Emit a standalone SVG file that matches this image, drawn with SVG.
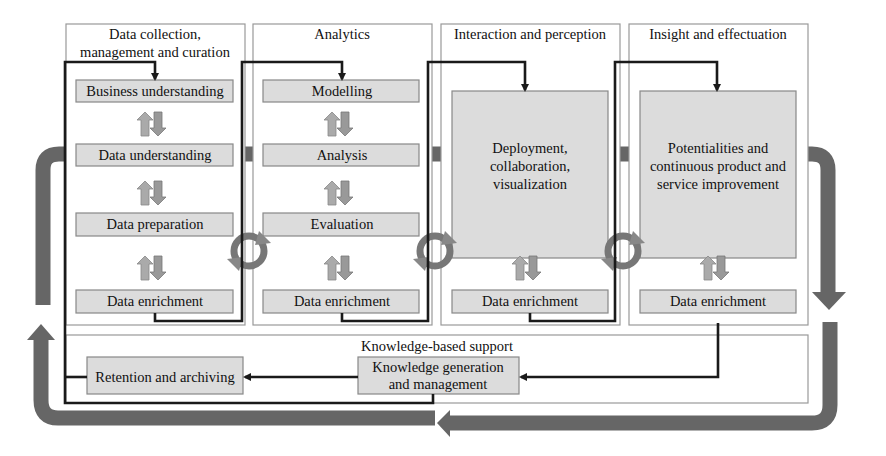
<svg xmlns="http://www.w3.org/2000/svg" width="886" height="456" viewBox="0 0 886 456">
<defs>
<style>
.col{fill:#fff;stroke:#999;stroke-width:1.2}
.box{fill:#dcdcdc;stroke:#888;stroke-width:1.2}
text{font-family:"Liberation Serif",serif;font-size:14.5px;fill:#111;text-anchor:middle}
.ln{fill:none;stroke:#1a1a1a;stroke-width:2.6}
.band{fill:none;stroke:#666;stroke-width:15}
.up{fill:#aaa;stroke:#888;stroke-width:0.8}
.dn{fill:#999;stroke:#777;stroke-width:0.8}
</style>
<marker id="ah" markerWidth="8" markerHeight="8" refX="6" refY="4" orient="auto" markerUnits="userSpaceOnUse"><path d="M0,0 L8,4 L0,8 Z" fill="#1a1a1a"/></marker>
<g id="dbl">
<path class="up" d="M-11,24 V8 H-15 L-7,0 L1,8 H-3 V24 Z"/>
<path class="dn" d="M2,0 V16 H-2 L6,24 L14,16 H10 V0 Z"/>
</g>
<g id="cyc">
<circle r="15" fill="none" stroke="#777" stroke-width="7"/>
<path d="M10,-20 L22,-8 L6,-6 Z" fill="#888"/>
<path d="M-10,20 L-22,8 L-6,6 Z" fill="#888"/>
</g>
</defs>
<g id="bands">
<path class="band" d="M43,305 V170 Q43,154 59,154 H812 Q828,154 828,170 V292"/>
<path d="M812,292 L846,292 L829,310 Z" fill="#666"/>
<path class="band" d="M830,322 V405 Q830,423 812,423 H450"/>
<path d="M450,410 L450,437 L437,423 Z" fill="#666"/>
<path class="band" d="M435,418 H58 Q41,418 41,400 V340"/>
<path d="M27,340 L55,340 L41,324 Z" fill="#666"/>
</g>
<g id="col1"><rect class="col" x="66" y="24" width="179" height="301"/><text x="155" y="39">Data collection,</text><text x="155" y="57">management and curation</text></g>
<g id="col2"><rect class="col" x="253" y="24" width="179" height="301"/><text x="342" y="39">Analytics</text></g>
<g id="col3"><rect class="col" x="441" y="24" width="179" height="301"/><text x="530" y="39">Interaction and perception</text></g>
<g id="col4"><rect class="col" x="629" y="24" width="179" height="301"/><text x="718" y="39">Insight and effectuation</text></g>
<g id="kbs"><rect class="col" x="66" y="335" width="742" height="68"/><text x="437" y="351">Knowledge-based support</text></g>
<g id="n1"><rect class="box" x="76" y="80" width="157" height="22"/><text x="155" y="96">Business understanding</text></g>
<g id="n2"><rect class="box" x="76" y="144" width="157" height="22"/><text x="155" y="160">Data understanding</text></g>
<g id="n3"><rect class="box" x="76" y="213" width="157" height="23"/><text x="155" y="229">Data preparation</text></g>
<g id="n4"><rect class="box" x="76" y="290" width="157" height="23"/><text x="155" y="306">Data enrichment</text></g>
<g id="m1"><rect class="box" x="263" y="80" width="156" height="22"/><text x="342" y="96">Modelling</text></g>
<g id="m2"><rect class="box" x="263" y="144" width="156" height="22"/><text x="342" y="160">Analysis</text></g>
<g id="m3"><rect class="box" x="263" y="213" width="156" height="23"/><text x="342" y="229">Evaluation</text></g>
<g id="m4"><rect class="box" x="263" y="290" width="156" height="23"/><text x="342" y="306">Data enrichment</text></g>
<g id="d1"><rect class="box" x="452" y="91" width="156" height="167"/><text x="530" y="153">Deployment,</text><text x="530" y="171">collaboration,</text><text x="530" y="189">visualization</text></g>
<g id="d2"><rect class="box" x="452" y="290" width="156" height="23"/><text x="530" y="306">Data enrichment</text></g>
<g id="i1"><rect class="box" x="640" y="91" width="156" height="167"/><text x="718" y="153">Potentialities and</text><text x="718" y="171">continuous product and</text><text x="718" y="189">service improvement</text></g>
<g id="i2"><rect class="box" x="640" y="290" width="156" height="23"/><text x="718" y="306">Data enrichment</text></g>
<g id="r1"><rect class="box" x="87" y="357" width="156" height="37"/><text x="165" y="382">Retention and archiving</text></g>
<g id="k1"><rect class="box" x="358" y="357" width="161" height="37"/><text x="438" y="372">Knowledge generation</text><text x="438" y="389">and management</text></g>
<g id="icons">
<use href="#dbl" x="152" y="112"/><use href="#dbl" x="152" y="181"/><use href="#dbl" x="152" y="256"/>
<use href="#dbl" x="339" y="112"/><use href="#dbl" x="339" y="181"/><use href="#dbl" x="339" y="256"/>
<use href="#dbl" x="527" y="256"/><use href="#dbl" x="715" y="256"/>
<use href="#cyc" x="249" y="251"/><use href="#cyc" x="435" y="251"/><use href="#cyc" x="623" y="251"/>
</g>
<g id="connectors">
<path class="ln" d="M433,394 V403 H65 V62 H155 V79" marker-end="url(#ah)"/>
<path class="ln" d="M155,313 V321 H242 V62 H342 V79" marker-end="url(#ah)"/>
<path class="ln" d="M342,313 V321 H428 V62 H525 V90" marker-end="url(#ah)"/>
<path class="ln" d="M530,313 V321 H615 V62 H717 V90" marker-end="url(#ah)"/>
<path class="ln" d="M718,323 V377 H521" marker-end="url(#ah)"/>
<path class="ln" d="M358,377 H245" marker-end="url(#ah)"/>
<path class="ln" d="M65,377 H87"/>
</g>
</svg>
